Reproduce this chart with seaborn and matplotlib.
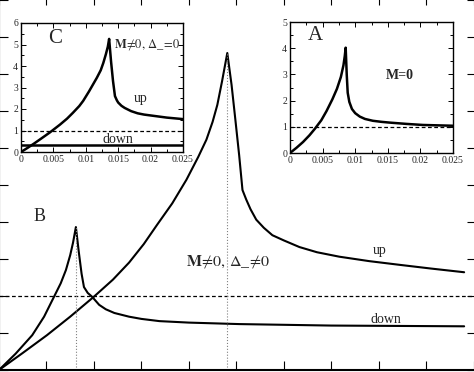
import numpy as np
import pandas as pd
import seaborn as sns
import matplotlib.pyplot as plt
from matplotlib.ticker import MultipleLocator, NullFormatter

# main panel (B): x in tick units, y in curve units
main_up_x = [0, 0.5, 1.01, 1.5, 2.0, 2.4, 2.74, 3.05, 3.33, 3.65, 3.95, 4.2, 4.37, 4.5, 4.6,
             4.7, 4.81, 4.9, 4.98, 5.06, 5.13, 5.21, 5.3, 5.42, 5.58, 5.76, 6.0, 6.33, 6.7,
             7.17, 7.8, 8.44, 9.1, 9.8]
main_up_y = [0, 0.23, 0.47, 0.72, 0.99, 1.22, 1.45, 1.7, 1.96, 2.25, 2.57, 2.88, 3.11, 3.35, 3.58,
             3.9, 4.28, 3.85, 3.38, 2.9, 2.43, 2.30, 2.17, 2.03, 1.92, 1.82, 1.75, 1.66, 1.59,
             1.53, 1.47, 1.42, 1.37, 1.32]
main_down_x = [0, 0.35, 0.70, 0.95, 1.16, 1.3, 1.41, 1.5, 1.56, 1.62, 1.68, 1.74, 1.79, 1.87,
               1.96, 2.11, 2.25, 2.43, 2.74, 3.0, 3.38, 4.0, 5.06, 7.0, 9.8]
main_down_y = [0, 0.22, 0.47, 0.72, 0.99, 1.17, 1.35, 1.55, 1.72, 1.93, 1.6, 1.3, 1.12, 1.04,
               0.99, 0.88, 0.82, 0.77, 0.72, 0.69, 0.66, 0.64, 0.62, 0.60, 0.59]
main_ref = 1.0
peak_x = [1.62, 4.81]
peak_y = [1.93, 4.28]

# inset C
c_x = [0, 0.001, 0.002, 0.003, 0.0045, 0.006, 0.0071, 0.008, 0.009, 0.0096, 0.0105, 0.0117,
       0.0123, 0.0127, 0.0131, 0.0134, 0.0136, 0.0139, 0.0142, 0.0145, 0.0148, 0.015, 0.0155,
       0.016, 0.017, 0.018, 0.019, 0.02, 0.0225, 0.025]
c_up = [0, 0.19, 0.39, 0.6, 0.92, 1.27, 1.55, 1.82, 2.14, 2.38, 2.82, 3.45,
        3.8, 4.14, 4.55, 4.9, 5.26, 4.2, 3.3, 2.6, 2.4, 2.3, 2.15,
        2.05, 1.9, 1.8, 1.74, 1.7, 1.6, 1.53]
c_down = 0.33

# inset A
a_x = [0, 0.001, 0.002, 0.003, 0.0038, 0.0048, 0.0056, 0.0065, 0.0072, 0.0078, 0.0082,
       0.0084, 0.00854, 0.0087, 0.00885, 0.0091, 0.0095, 0.01, 0.0107, 0.0115, 0.0127, 0.014,
       0.0153, 0.0179, 0.0204, 0.025]
a_y = [0, 0.2, 0.42, 0.68, 0.92, 1.25, 1.6, 2.05, 2.45, 2.9, 3.35,
       3.7, 4.02, 3.0, 2.3, 1.95, 1.68, 1.52, 1.39, 1.3, 1.23, 1.19,
       1.16, 1.11, 1.07, 1.04]

sns.set_style("ticks")
plt.rcParams['font.family'] = ['Liberation Serif', 'DejaVu Serif']
plt.rcParams['mathtext.fontset'] = 'stix'

W, H = 474, 372
fig = plt.figure(figsize=(W / 100, H / 100), dpi=100)


def px_axes(left, top, right, bottom):
    return fig.add_axes([left / W, 1 - bottom / H, (right - left) / W, (bottom - top) / H])


# ---- main panel
ax = px_axes(-1, -4, 476, 370)
ax.set_xlim(0, 10.05)
ax.set_ylim(0, 5.05)
df_up = pd.DataFrame({'x': main_up_x, 'y': main_up_y})
df_dn = pd.DataFrame({'x': main_down_x, 'y': main_down_y})
sns.lineplot(data=df_up, x='x', y='y', ax=ax, color='black', lw=1.5, sort=False)
sns.lineplot(data=df_dn, x='x', y='y', ax=ax, color='black', lw=1.5, sort=False)
ax.axhline(main_ref, color='black', lw=0.9, ls=(0, (3, 2)))
for px_, py_ in zip(peak_x, peak_y):
    ax.plot([px_, px_], [0, py_], color='gray', lw=0.8, ls=':')
ax.xaxis.set_major_locator(MultipleLocator(1))
ax.yaxis.set_major_locator(MultipleLocator(0.5))
ax.xaxis.set_major_formatter(NullFormatter())
ax.yaxis.set_major_formatter(NullFormatter())
ax.tick_params(direction='in', length=6.5, width=0.8, top=True, right=True, color='black')
for s in ax.spines.values():
    s.set_color('black')
ax.spines['bottom'].set_linewidth(1.5)
ax.set_xlabel('')
ax.set_ylabel('')
ax.text(0.86, 2.07, 'B', fontsize=13, ha='center', va='center')
ax.text(4.83, 1.46, r'$\mathbf{M}\!\neq\!0,\,\Delta\_\!\neq\!0$', fontsize=11.5,
        ha='center', va='center')
ax.text(8.03, 1.61, 'up', fontsize=10, ha='center', va='center')
ax.text(8.15, 0.68, 'down', fontsize=10, ha='center', va='center')


def style_inset(a, ymax):
    a.set_xlim(0, 0.025)
    a.set_ylim(0, ymax)
    a.xaxis.set_major_locator(MultipleLocator(0.005))
    a.xaxis.set_minor_locator(MultipleLocator(0.0025))
    a.yaxis.set_major_locator(MultipleLocator(1))
    a.yaxis.set_minor_locator(MultipleLocator(0.5))
    a.set_xticklabels(['0' if t == 0 else f'{t:g}' for t in a.get_xticks()])
    a.tick_params(which='both', direction='in', top=True, right=True, labelsize=7,
                  pad=2, width=0.7, color='black')
    a.tick_params(which='major', length=3.5)
    a.tick_params(which='minor', length=2.5)
    for s in a.spines.values():
        s.set_color('black')
        s.set_linewidth(1.0)
    a.set_xlabel('')
    a.set_ylabel('')
    a.set_facecolor('white')


# ---- inset C
axc = px_axes(21, 23, 183, 152)
sns.lineplot(x=c_x, y=c_up, ax=axc, color='black', lw=1.8, sort=False)
axc.axhline(c_down, color='black', lw=1.8)
axc.axhline(main_ref, color='black', lw=0.9, ls=(0, (3, 2)))
style_inset(axc, 6)
axc.text(0.00525, 5.3, 'C', fontsize=15, ha='center', va='center')
axc.text(0.0195, 4.98, r'$\mathbf{M}\!\neq\!0,\,\Delta\_\!=\!0$', fontsize=9,
         ha='center', va='center')
axc.text(0.0184, 2.51, 'up', fontsize=10, ha='center', va='center')
axc.text(0.015, 0.56, 'down', fontsize=10, ha='center', va='center')

# ---- inset A
axa = px_axes(290, 22, 453, 153)
sns.lineplot(x=a_x, y=a_y, ax=axa, color='black', lw=1.8, sort=False)
axa.axhline(main_ref, color='black', lw=0.9, ls=(0, (3, 2)))
style_inset(axa, 5)
axa.text(0.00383, 4.5, 'A', fontsize=15, ha='center', va='center')
axa.text(0.0169, 2.94, 'M=0', fontsize=10, fontweight='bold', ha='center', va='center')

fig.savefig('out.png', dpi=100)
